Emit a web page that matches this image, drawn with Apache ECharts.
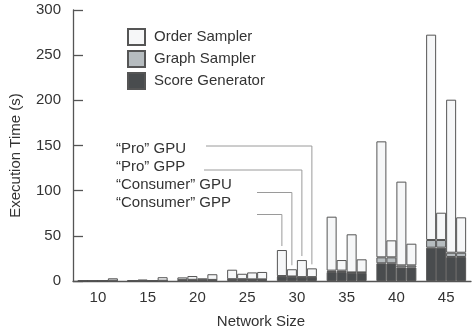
<!DOCTYPE html>
<html><head><meta charset="utf-8">
<script src="https://cdn.jsdelivr.net/npm/echarts@6/dist/echarts.min.js"></script>
<style>html,body{margin:0;padding:0;background:#fff}#c{width:474px;height:334px}</style>
</head><body><div id="c"></div>
<script>
const categories = ['10','15','20','25','30','35','40','45'];
const yTicks = [0,50,100,150,200,250,300];

// "Consumer" GPP
const cgppScore = [0.2,0.2,1,1.5,5,10,19.6,36.9];
const cgppGraph = [0.1,0.1,0.3,0.5,0.5,1.5,6.6,8.5];
const cgppOrder = [0.2,0.3,2.7,10.5,28.8,59.7,128.4,227.3];
// "Consumer" GPU
const cgpuScore = [0.2,0.2,1,1.5,4.5,10,19.6,36.9];
const cgpuGraph = [0.1,0.1,0.3,0.5,0.5,1.5,6.6,8.5];
const cgpuOrder = [0.2,1.2,4.2,6,8,11.7,18.8,30.2];
// "Pro" GPP
const pgppScore = [0.2,0.2,0.8,1.5,4,9,15,26.6];
const pgppGraph = [0.1,0.1,0.2,0.3,0.3,0.5,2.3,4.7];
const pgppOrder = [0.2,0.3,2,7.7,18.9,42.2,92.7,169.4];
// "Pro" GPU
const pgpuScore = [0.2,0.2,1,1.5,4,9,15,26.6];
const pgpuGraph = [0.1,0.1,0.2,0.3,0.3,0.5,2.3,4.7];
const pgpuOrder = [2.7,3.9,6.3,8.2,9.7,14.5,24,39.2];

const configNames = ['“Consumer” GPP','“Consumer” GPU','“Pro” GPP','“Pro” GPU'];
const configData = [
  [cgppScore, cgppGraph, cgppOrder],
  [cgpuScore, cgpuGraph, cgpuOrder],
  [pgppScore, pgppGraph, pgppOrder],
  [pgpuScore, pgpuGraph, pgpuOrder]
];
const componentNames = ['Score Generator','Graph Sampler','Order Sampler'];
const componentColors = ['#494c4e','#b6bcbf','#f6f7f8'];
const annotatedCategory = '30';

const FONT = 'Liberation Sans, Arial, Helvetica, sans-serif';
const TXT = '#333';
const BAR_W = 10;

const series = [];
configData.forEach((comp, ci) => {
  comp.forEach((vals, k) => {
    series.push({
      type: 'bar',
      name: componentNames[k],
      stack: 'cfg' + ci,
      data: vals,
      barWidth: BAR_W,
      barGap: '0%',
      itemStyle: { color: componentColors[k], borderColor: '#555', borderWidth: 1 },
      emphasis: { disabled: true }
    });
  });
});

const chart = echarts.init(document.getElementById('c'), null, { renderer: 'canvas' });
chart.setOption({
  animation: false,
  backgroundColor: '#fff',
  textStyle: { fontFamily: FONT },
  grid: { left: 66, right: 3, top: 10, bottom: 53 },
  legend: {
    data: ['Order Sampler','Graph Sampler','Score Generator'],
    orient: 'vertical', left: 122, top: 23,
    itemWidth: 17, itemHeight: 16, itemGap: 4, icon: 'rect',
    selectedMode: false,
    textStyle: { fontFamily: FONT, fontSize: 15, color: TXT, padding: [0,0,0,4] }
  },
  xAxis: {
    type: 'category', data: categories,
    name: 'Network Size', nameLocation: 'middle', nameGap: 33,
    nameTextStyle: { fontFamily: FONT, fontSize: 15, color: TXT, padding: [0,22,0,0] },
    axisLine: { lineStyle: { color: '#555', width: 1.3 } },
    axisTick: { show: false },
    axisLabel: { fontFamily: FONT, fontSize: 15, color: TXT, margin: 9 }
  },
  yAxis: {
    type: 'value', min: yTicks[0], max: yTicks[yTicks.length-1], interval: 50,
    name: 'Execution Time (s)', nameLocation: 'middle', nameGap: 50,
    nameTextStyle: { fontFamily: FONT, fontSize: 15, color: TXT, padding: [0,20,0,0] },
    axisLine: { show: true, lineStyle: { color: '#555', width: 1.3 } },
    axisTick: { show: true, inside: true, length: 10, lineStyle: { color: '#555', width: 1.3 } },
    splitLine: { show: false },
    axisLabel: { fontFamily: FONT, fontSize: 15, color: TXT, margin: 12 }
  },
  series: series
});

// leader-line annotations for the category "30"
const annotations = [
  { cfg: 3, textY: 150, lineY: 146, lineX0: 206 },
  { cfg: 2, textY: 168, lineY: 170, lineX0: 204 },
  { cfg: 1, textY: 186, lineY: 192.5, lineX0: 257 },
  { cfg: 0, textY: 204, lineY: 214.5, lineX0: 257 }
];
const catIdx = categories.indexOf(annotatedCategory);
const center = chart.convertToPixel({ xAxisIndex: 0 }, catIdx);
const graphics = [];
annotations.forEach(a => {
  const d = configData[a.cfg];
  const total = d[0][catIdx] + d[1][catIdx] + d[2][catIdx];
  const bx = center + (a.cfg - 1.5) * BAR_W;
  const by = chart.convertToPixel({ yAxisIndex: 0 }, total) - 4;
  graphics.push({
    type: 'text', left: 116, top: a.textY - 9,
    style: { text: configNames[a.cfg], font: '15px ' + FONT, fill: TXT }
  });
  graphics.push({
    type: 'polyline',
    shape: { points: [[a.lineX0, a.lineY], [bx, a.lineY], [bx, by]] },
    style: { stroke: '#9a9a9a', lineWidth: 1, fill: null }
  });
});
chart.setOption({ graphic: graphics });
</script>
</body></html>
